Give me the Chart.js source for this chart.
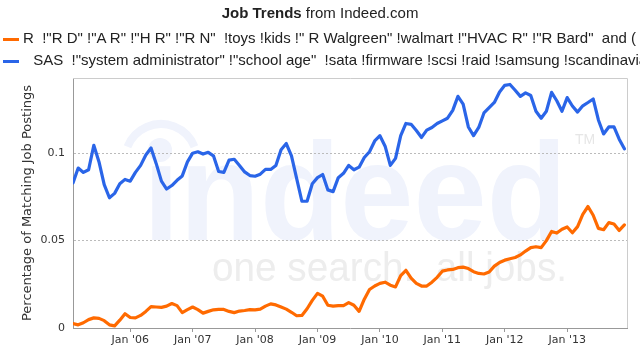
<!DOCTYPE html>
<html><head><meta charset="utf-8">
<script src="https://cdn.jsdelivr.net/npm/chart.js@4"></script>
<style>
html,body{margin:0;padding:0;background:#fff;width:640px;height:357px;overflow:hidden}
#wrap{position:relative;width:640px;height:357px}
canvas{position:absolute;left:0;top:0}
#title{position:absolute;left:0;width:640px;top:4px;line-height:18px;text-align:center;font-size:15px;font-family:"Liberation Sans",Arial,sans-serif;color:#222;white-space:nowrap}
.leg{position:absolute;left:0;width:640px;overflow:hidden;white-space:pre;font-size:15px;line-height:17px;font-family:"Liberation Sans",Arial,sans-serif;color:#222}
.sw{display:inline-block;width:16px;height:3px;vertical-align:middle;margin:0 4px 0 3px}
</style></head>
<body><div id="wrap">
<canvas id="c" width="640" height="357"></canvas>
<div id="title"><b>Job Trends</b> from Indeed.com</div>
<div class="leg" id="leg1" style="top:29px"><span class="sw" style="background:#ff6a00"></span></div>
<div class="leg" id="leg2" style="top:51px"><span class="sw" style="background:#2a65e8;margin-right:10px"></span></div>
</div>
<script>
const seriesNames = ['R  !"R D" !"A R" !"H R" !"R N"  !toys !kids !" R Walgreen" !walmart !"HVAC R" !"R Bard"  and (',
  ' SAS  !"system administrator" !"school age"  !sata !firmware !scsi !raid !samsung !scandinavia'];
// months counted from Jan 2005 = 0; data starts Feb 2005
const firstMonth = 1;
const tickMonths = [12,24,36,48,60,72,84,96];
const tickLabels = ["Jan '06","Jan '07","Jan '08","Jan '09","Jan '10","Jan '11","Jan '12","Jan '13"];
const yTicks = [0,0.05,0.1];
const yTickLabels = ["0","0.05","0.1"];
const rValues = [0.0025,0.0018,0.003,0.0048,0.0058,0.0055,0.0042,0.0018,0.0012,0.0045,0.0082,0.006,
0.0058,0.0072,0.0095,0.0122,0.012,0.0118,0.0125,0.014,0.0128,0.0088,0.0105,0.012,
0.0105,0.0085,0.0095,0.0104,0.0106,0.0106,0.0095,0.0088,0.0097,0.01,0.0105,0.0104,
0.0108,0.0125,0.0138,0.0132,0.012,0.0108,0.009,0.007,0.0072,0.011,0.0158,0.0198,
0.0182,0.013,0.0125,0.0128,0.0128,0.0145,0.013,0.0095,0.0165,0.022,0.024,0.0255,
0.0262,0.0245,0.0235,0.03,0.033,0.0285,0.0255,0.024,0.024,0.0262,0.029,0.0325,
0.0332,0.0335,0.0345,0.0348,0.034,0.0322,0.0312,0.0309,0.032,0.0354,0.0375,0.0388,
0.0396,0.0403,0.0418,0.044,0.046,0.0465,0.046,0.05,0.0552,0.0543,0.0565,0.0578,
0.0545,0.058,0.065,0.0695,0.0645,0.057,0.0562,0.0603,0.0595,0.0558,0.059];
const sasValues = [0.083,0.0915,0.089,0.0905,0.1045,0.095,0.082,0.0745,0.077,0.0825,0.085,0.084,
0.089,0.093,0.099,0.103,0.094,0.084,0.0795,0.0815,0.0845,0.087,0.095,0.1,
0.1008,0.0995,0.1005,0.0985,0.0895,0.089,0.096,0.0965,0.093,0.0893,0.0872,0.0868,
0.088,0.0907,0.0907,0.093,0.102,0.1055,0.0985,0.0855,0.0725,0.0725,0.0825,0.086,
0.0878,0.079,0.078,0.086,0.0885,0.093,0.0905,0.092,0.0975,0.1008,0.107,0.11,
0.104,0.093,0.097,0.11,0.117,0.1165,0.113,0.109,0.1132,0.1147,0.117,0.1185,
0.12,0.1245,0.1325,0.128,0.115,0.11,0.1147,0.123,0.126,0.129,0.135,0.1388,
0.1393,0.136,0.1325,0.1345,0.133,0.124,0.12,0.124,0.1348,0.13,0.124,0.1318,
0.127,0.1235,0.1271,0.129,0.131,0.119,0.111,0.115,0.115,0.108,0.1025];
const colors = ['#ff6a00','#2a65e8'];

document.getElementById('leg1').appendChild(document.createTextNode(seriesNames[0]));
document.getElementById('leg2').appendChild(document.createTextNode(seriesNames[1]));

const toPts = arr => arr.map((v,i)=>({x:firstMonth+i, y:v}));

const watermark = {
  id:'watermark',
  beforeDraw(chart){
    const ctx = chart.ctx;
    ctx.save();
    ctx.fillStyle = '#f0f3fc';
    ctx.font = 'bold 140px "Liberation Sans", Arial, sans-serif';
    ctx.textBaseline = 'alphabetic';
    ctx.fillText('\u0131ndeed', 143, 240, 424);
    ctx.strokeStyle = '#f0f3fc';
    ctx.lineWidth = 8;
    ctx.beginPath();
    ctx.arc(161, 160, 36, Math.PI*1.12, Math.PI*1.88);
    ctx.stroke();
    ctx.beginPath();
    ctx.arc(160, 150, 12, 0, Math.PI*2);
    ctx.fill();
    ctx.fillStyle = '#ededed';
    ctx.font = '41px "Liberation Sans", Arial, sans-serif';
    ctx.fillText('one search.  all jobs.', 212, 281, 355);
    ctx.font = '14px "Liberation Sans", Arial, sans-serif';
    ctx.fillStyle = '#e6e6e6';
    ctx.fillText('TM', 575, 144);
    ctx.restore();
  },
  afterDraw(chart){
    const {ctx, chartArea:a} = chart;
    ctx.save();
    ctx.strokeStyle = '#cccccc';
    ctx.lineWidth = 1;
    ctx.beginPath();
    ctx.moveTo(a.left, a.top+0.5); ctx.lineTo(a.right+0.5, a.top+0.5);
    ctx.lineTo(a.right+0.5, a.bottom);
    ctx.stroke();
    ctx.restore();
  }
};

new Chart(document.getElementById('c'), {
  type:'line',
  data:{datasets:[
    {label:'R', data:toPts(rValues), borderColor:colors[0], backgroundColor:colors[0]},
    {label:'SAS', data:toPts(sasValues), borderColor:colors[1], backgroundColor:colors[1]}
  ]},
  options:{
    responsive:false, animation:false,
    layout:{padding:{top:78,right:13,bottom:0,left:0}},
    plugins:{legend:{display:false}, title:{display:false}, tooltip:{enabled:false}},
    elements:{point:{radius:0}, line:{borderWidth:3.2, tension:0, borderJoinStyle:'round', borderCapStyle:'round'}},
    scales:{
      x:{type:'linear', min:1, max:107.5,
        afterBuildTicks:s=>{s.ticks = tickMonths.map(v=>({value:v}));},
        ticks:{callback:(v,i)=>tickLabels[i], font:{family:'DejaVu Sans', size:11}, color:'#333', padding:2, maxRotation:0, autoSkip:false},
        grid:{drawOnChartArea:false, drawTicks:true, tickLength:4, color:'#999'},
        border:{color:'#999'},
        afterFit:s=>{s.height = 29;}
      },
      y:{min:0, max:0.143,
        afterBuildTicks:s=>{s.ticks = yTicks.map(v=>({value:v}));},
        ticks:{callback:(v,i)=>yTickLabels[i], font:{family:'DejaVu Sans', size:11}, color:'#333', padding:8},
        grid:{drawTicks:false, color:c=> (c.tick && c.tick.value===0) ? 'rgba(0,0,0,0)' : '#bbbbbb'},
        border:{color:'#999', dash:[2,2]},
        title:{display:true, text:'Percentage of Matching Job Postings', font:{family:'DejaVu Sans', size:13}, color:'#333', padding:{top:20,bottom:0}},
        afterFit:s=>{s.width = 73;}
      }
    }
  },
  plugins:[watermark]
});
</script>
</body></html>
